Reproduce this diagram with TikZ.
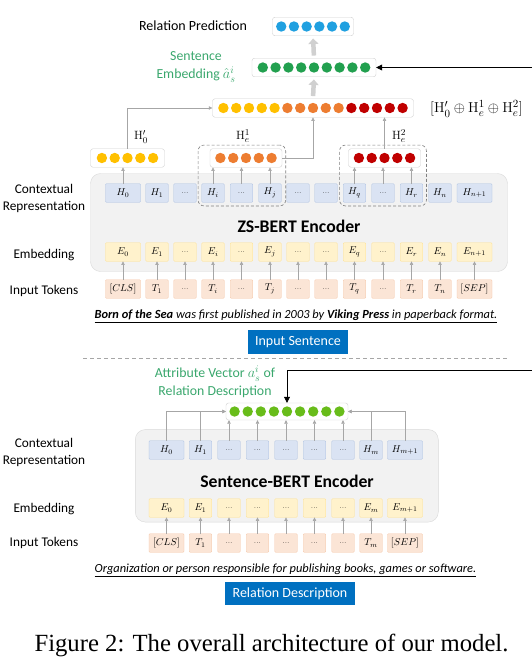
\documentclass[tikz,border=0pt]{standalone}
\usepackage{amssymb, amsmath}
\usepackage[no-math]{fontspec}
\setmainfont{Carlito}
\newfontfamily\capfont{Liberation Serif}
\usepackage{tikz}
\usetikzlibrary{arrows.meta}
\usetikzlibrary{calc}
\usetikzlibrary{fit}

\definecolor{predblue}{HTML}{20A0E0}
\definecolor{sentgreen}{HTML}{22A04F}
\definecolor{catyellow}{HTML}{FFC000}
\definecolor{catorange}{HTML}{ED7D31}
\definecolor{catred}{HTML}{C00000}
\definecolor{attrgreen}{HTML}{68BC1A}
\definecolor{txtgreen}{HTML}{3AA76D}
\definecolor{hfill}{HTML}{DAE3F3}
\definecolor{hline}{HTML}{A9BEE0}
\definecolor{efill}{HTML}{FFF2CC}
\definecolor{eline}{HTML}{FFE08A}
\definecolor{tfill}{HTML}{FBE5D6}
\definecolor{tline}{HTML}{F4C3A3}
\definecolor{panelfill}{HTML}{F2F2F2}
\definecolor{panelline}{HTML}{D9D9D9}
\definecolor{boxline}{HTML}{D0D0D0}
\definecolor{grpline}{HTML}{808080}
\definecolor{arrgray}{HTML}{A6A6A6}
\definecolor{bigarrgray}{HTML}{D0D0D0}
\definecolor{btnblue}{HTML}{0070C0}

\begin{document}
\begin{tikzpicture}[x=1pt, y=-1pt,
	vecbox/.style={draw=boxline, fill=white, rounded corners=2.5pt,
		minimum height=18.5pt, inner sep=0pt},
	tokbox/.style={rounded corners=0.8pt, minimum height=18.5pt,
		inner sep=0pt, font=\fontsize{10}{12}\selectfont},
	hbox/.style={tokbox, draw=hline, fill=hfill},
	ebox/.style={tokbox, draw=eline, fill=efill},
	tbox/.style={tokbox, draw=tline, fill=tfill},
	panel/.style={draw=panelline, fill=panelfill, rounded corners=10pt},
	grp/.style={draw=grpline, dash pattern=on 3pt off 2pt, line width=0.6pt,
		rounded corners=6pt, inner sep=3.5pt},
	rowlabel/.style={align=center, font=\fontsize{13.3}{17}\selectfont},
	greenlabel/.style={align=center, text=txtgreen, font=\fontsize{13.8}{18}\selectfont},
	enclabel/.style={font=\fontsize{17.7}{20}\selectfont\bfseries},
	sentence/.style={font=\fontsize{12.4}{14}\selectfont\itshape},
	button/.style={fill=btnblue, text=white, inner sep=0pt,
		font=\fontsize{14}{16}\selectfont},
	garrow/.style={draw=arrgray, line width=0.6pt, -{Triangle[length=3.5pt,width=3.5pt]}},
	blkarrow/.style={draw=black, line width=0.6pt, -{Triangle[length=6pt,width=6pt]}},
	bigarrow/.style={draw=bigarrgray, line width=4.5pt,
		-{Triangle[length=5.5pt,width=10pt]}, shorten <=2.5pt, shorten >=2.5pt}
]
\useasboundingbox (0,0) rectangle (532,670);

% ---------- ZS-BERT part
\node[panel, minimum width=417pt, minimum height=98pt] (enc) at (299,222.5) {};
\node[enclabel] (enctext) at (299,226) {ZS-BERT Encoder};

\foreach \n/\x/\w/\h/\e/\t in {
	1/123/35/H_0/E_0/[CLS],
	2/157/22.5/H_1/E_1/T_1,
	3/185/22.5/\scriptstyle\ldots/\scriptstyle\ldots/\scriptstyle\ldots,
	4/213/22.5/H_i/E_i/T_i,
	5/241.5/22.5/\scriptstyle\ldots/\scriptstyle\ldots/\scriptstyle\ldots,
	6/270/22.5/H_j/E_j/T_j,
	7/298/22.5/\scriptstyle\ldots/\scriptstyle\ldots/\scriptstyle\ldots,
	8/326/22.5/\scriptstyle\ldots/\scriptstyle\ldots/\scriptstyle\ldots,
	9/354.5/22.5/H_q/E_q/T_q,
	10/383/22.5/\scriptstyle\ldots/\scriptstyle\ldots/\scriptstyle\ldots,
	11/411.5/22.5/H_r/E_r/T_r,
	12/440/22.5/H_n/E_n/T_n,
	13/474.5/35/H_{n+1}/E_{n+1}/[SEP]}
{
	\node[hbox, minimum width=\w pt] (h\n) at (\x,193) {$\h$};
	\node[ebox, minimum width=\w pt] (e\n) at (\x,252) {$\e$};
	\node[tbox, minimum width=\w pt] (t\n) at (\x,289) {$\t$};
	\draw[garrow] (t\n.north) -- (e\n.south);
}

\node[rowlabel] (ctxlabel) at (44,198.5) {Contextual\\Representation};
\node[rowlabel] (emblabel) at (44,255) {Embedding};
\node[rowlabel] (toklabel) at (44,291) {Input Tokens};

% hidden vectors
\node[vecbox, minimum width=74pt] (hzero) at (127.5,158) {};
\node[vecbox, minimum width=72pt] (hone) at (246,158) {};
\node[vecbox, minimum width=72pt] (htwo) at (384.5,158) {};
\foreach \i in {0,...,4} {
	\fill[catyellow] ($(hzero.center)+({(\i-2)*12.8},0)$) circle[radius=5.2pt];
	\fill[catorange] ($(hone.center)+({(\i-2)*12.8},0)$) circle[radius=5.2pt];
	\fill[catred] ($(htwo.center)+({(\i-2)*12.8},0)$) circle[radius=5.2pt];
}
\node[grp, fit=(hone)(h4)(h6)] (grpone) {};
\node[grp, fit=(htwo)(h9)(h11)] (grptwo) {};

\node[font=\fontsize{13}{15}\selectfont] (lzero) at (141,137) {$\mathrm{H}'_0$};
\node[font=\fontsize{13}{15}\selectfont] (lone) at (243,136) {$\mathrm{H}_e^1$};
\node[font=\fontsize{13}{15}\selectfont] (ltwo) at (399,136) {$\mathrm{H}_e^2$};

\draw[garrow] (h1.north) -- (h1.north |- hzero.south);
\foreach \n in {4,5,6}
	\draw[garrow] (h\n.north) -- (h\n.north |- hone.south);
\foreach \n in {9,10,11}
	\draw[garrow] (h\n.north) -- (h\n.north |- htwo.south);

% concatenation, sentence embedding, prediction
\node[vecbox, minimum width=201pt] (cat) at (313,108) {};
\foreach \c [count=\k from 0] in {catyellow,catorange,catred}
	\foreach \i in {0,...,4}
		\fill[\c] ($(cat.center)+({(5*\k+\i-7)*12.8},0)$) circle[radius=5.2pt];
\node[font=\fontsize{15.5}{18}\selectfont] (catlabel) at (476.5,109)
	{$[\mathrm{H}'_0\oplus\mathrm{H}_e^1\oplus\mathrm{H}_e^2]$};

\draw[garrow] (hzero.north) |- (cat.west);
\draw[garrow] (hone.east) -| (cat.south);
\draw[garrow] (htwo.north) -- (htwo.north |- cat.south);

\node[vecbox, minimum width=124pt] (sent) at (314,67.5) {};
\foreach \i in {0,...,8}
	\fill[sentgreen] ($(sent.center)+({(\i-4)*12.8},0)$) circle[radius=5.2pt];
\node[greenlabel] (sentlabel) at (196,67) {Sentence\\Embedding $\hat{a}_s^i$};

\node[vecbox, minimum width=81pt] (pred) at (313,26.5) {};
\foreach \i in {0,...,5}
	\fill[predblue] ($(pred.center)+({(\i-2.5)*12.7},0)$) circle[radius=5.2pt];
\node[font=\fontsize{14}{16}\selectfont] (predlabel) at (193,26) {Relation Prediction};

\draw[bigarrow] (cat.north) -- (sent.south);
\draw[bigarrow] (sent.north) -- (pred.south);

\coordinate (feedtop) at (532,67.5);
\draw[blkarrow] (feedtop) -- (sent.east);

\node[sentence] (insent) at (296,316)
	{\underline{\textbf{Born of the Sea} was first published in 2003 by
	\textbf{Viking Press} in paperback format.}};
\node[button, minimum width=100pt, minimum height=24pt] (inbtn) at (298,342) {Input Sentence};

% separator
\coordinate (sepl) at (83,358.5);
\coordinate (sepr) at (507.5,358.5);
\draw[draw=arrgray, line width=0.8pt, dash pattern=on 4pt off 3pt] (sepl) -- (sepr);

% ---------- Sentence-BERT part
\node[panel, minimum width=303pt, minimum height=92.5pt] (encb) at (286.8,475.8) {};
\node[enclabel] (encbtext) at (287,481) {Sentence-BERT Encoder};

\foreach \n/\x/\w/\h/\e/\t in {
	1/166.5/35/H_0/E_0/[CLS],
	2/200.5/22.5/H_1/E_1/T_1,
	3/229/22.5/\scriptstyle\ldots/\scriptstyle\ldots/\scriptstyle\ldots,
	4/257.5/22.5/\scriptstyle\ldots/\scriptstyle\ldots/\scriptstyle\ldots,
	5/286/22.5/\scriptstyle\ldots/\scriptstyle\ldots/\scriptstyle\ldots,
	6/314.5/22.5/\scriptstyle\ldots/\scriptstyle\ldots/\scriptstyle\ldots,
	7/343/22.5/\scriptstyle\ldots/\scriptstyle\ldots/\scriptstyle\ldots,
	8/371/22.5/H_m/E_m/T_m,
	9/405/35/H_{m+1}/E_{m+1}/[SEP]}
{
	\node[hbox, minimum width=\w pt] (bh\n) at (\x,450) {$\h$};
	\node[ebox, minimum width=\w pt] (be\n) at (\x,508) {$\e$};
	\node[tbox, minimum width=\w pt] (bt\n) at (\x,543) {$\t$};
	\draw[garrow] (bt\n.north) -- (be\n.south);
}

\node[rowlabel] (bctxlabel) at (44,452) {Contextual\\Representation};
\node[rowlabel] (bemblabel) at (44,509) {Embedding};
\node[rowlabel] (btoklabel) at (44,543) {Input Tokens};

\node[vecbox, minimum width=122pt, minimum height=17pt] (attr) at (287,411.5) {};
\foreach \i in {0,...,8}
	\fill[attrgreen] ($(attr.center)+({(\i-4)*13.1},0)$) circle[radius=5.2pt];
\node[greenlabel] (attrlabel) at (215,382) {Attribute Vector $a_s^i$ of\\Relation Description};

\draw[garrow] (bh1.north) |- (attr.west);
\draw[garrow] (bh2.north) |- (attr.west);
\foreach \n in {3,...,7}
	\draw[garrow] (bh\n.north) -- (bh\n.north |- attr.south);
\draw[garrow] (bh8.north) |- (attr.east);
\draw[garrow] (bh9.north) |- (attr.east);

\coordinate (feedbot) at (532,370);
\draw[blkarrow] (feedbot) -| (attr.north);

\node[sentence] (relsent) at (285.5,570)
	{\underline{Organization or person responsible for publishing books, games or software.}};
\node[button, minimum width=130pt, minimum height=23pt] (relbtn) at (290,593.5) {Relation Description};

\node[font=\capfont\fontsize{24.7}{28}\selectfont] (caption) at (271.5,645)
	{Figure 2: The overall architecture of our model.};
\end{tikzpicture}
\end{document}
